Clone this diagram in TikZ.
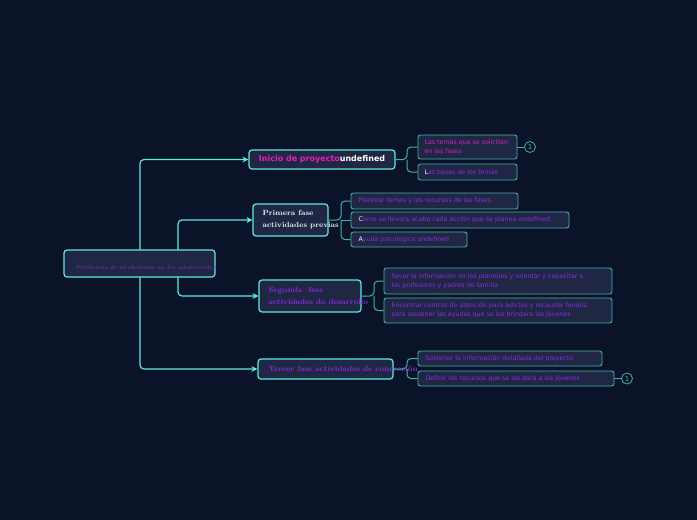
\documentclass[tikz,border=0pt]{standalone}
\usepackage{fontspec}
\setsansfont{DejaVu Sans}
\usetikzlibrary{arrows.meta}
\definecolor{bg}{HTML}{0B1329}
\definecolor{nf}{HTML}{1F2744}
\definecolor{cy}{HTML}{5FEADB}
\definecolor{tl}{HTML}{46AFA8}
\definecolor{pu}{HTML}{8A2BE2}
\definecolor{mg}{HTML}{E61EBE}
\tikzset{
 x=1pt,y=-1pt,
 box/.style={draw=cy,line width=1.2pt,fill=nf,rounded corners=3pt,inner sep=0pt},
 sub/.style={draw=tl,line width=0.9pt,fill=nf,rounded corners=2.5pt,inner sep=0pt},
 st/.style={font=\sffamily\fontsize{6.3}{9}\selectfont,text=pu,align=left},
 ser/.style={font=\rmfamily\bfseries\fontsize{7.5}{12}\selectfont,align=left},
 con/.style={draw=cy,line width=1.2pt,rounded corners=4pt},
 sc/.style={draw=tl,line width=1pt,rounded corners=4pt},
 arr/.style={con,-{Stealth[length=6pt,width=6pt]}},
 num/.style={circle,draw=tl,line width=0.8pt,inner sep=0pt,minimum size=11pt,text=tl,font=\sffamily\fontsize{7}{7}\selectfont}
}
\begin{document}
\begin{tikzpicture}
\fill[bg] (0,0) rectangle (697,520);
\useasboundingbox (0,0) rectangle (697,520);
% root
\node[box,minimum width=151pt,minimum height=27pt] (root) at (139.5,263.5) {};
\node[font=\rmfamily\itshape\fontsize{6}{7}\selectfont,text=pu,anchor=west] (roott) at (72,267) {Problemas de alcoholismo en los adolescentes};
% main
\node[box,minimum width=146pt,minimum height=19pt] (ini) at (322,159.5) {};
\node[font=\sffamily\bfseries\fontsize{8}{9}\selectfont] (init) at (322,159.5) {\textcolor{mg}{Inicio de proyecto}\textcolor{white}{undefined}};
\node[box,minimum width=75pt,minimum height=32pt] (pri) at (290.5,220) {};
\node[ser,text=white!85!cy,anchor=west] (prit) at (259,220) {Primera fase\\actividades previas};
\node[box,minimum width=102pt,minimum height=32pt] (seg) at (310,296) {};
\node[ser,text=pu,anchor=west] (segt) at (265,296) {Segunda\ \ fase\\actividades de desarrollo};
\node[box,minimum width=135pt,minimum height=20pt] (ter) at (325.5,369) {};
\node[ser,text=pu,anchor=west] (tert) at (265,369) {Tercer fase actividades de concreción};
% subs
\node[sub,minimum width=99pt,minimum height=24pt] (a1) at (467.5,147) {};
\node[st,anchor=west,text=mg!80!pu] at (421,147) {Las temas que se solicitan\\en las fases};
\node[num] (n1) at (530,147) {1};
\node[sub,minimum width=99pt,minimum height=16pt] (a2) at (467.5,172) {};
\node[st,anchor=west] at (421,172) {\textcolor{white}{L}as bases de los temas};
\node[sub,minimum width=167pt,minimum height=16pt] (b1) at (434.5,201) {};
\node[st,anchor=west] at (355,201) {Plantear temas y los recursos de las fases};
\node[sub,minimum width=218pt,minimum height=16pt] (b2) at (460,220) {};
\node[st,anchor=west] at (355,220) {\textcolor{white}{C}omo se llevara acabo cada acción que se planea undefined};
\node[sub,minimum width=116pt,minimum height=15pt] (b3) at (409,239.5) {};
\node[st,anchor=west] at (355,239.5) {\textcolor{white}{A}yuda psicologíca undefined};
\node[sub,minimum width=228pt,minimum height=26pt] (c1) at (498,281) {};
\node[st,anchor=west] at (388,281) {llevar la información en los planteles y orientar y capacitar a\\los profesores y padres de familia};
\node[sub,minimum width=228pt,minimum height=25pt] (c2) at (498,310.5) {};
\node[st,anchor=west] at (388,310.5) {Encontrar centros de atención para adictos y recaudar fondos\\para sostener las ayudas que se les brindara los jóvenes};
\node[sub,minimum width=184pt,minimum height=15pt] (d1) at (510,358.5) {};
\node[st,anchor=west] at (422,358.5) {Sostener la información detallada del proyecto};
\node[sub,minimum width=196pt,minimum height=15pt] (d2) at (516,378.5) {};
\node[st,anchor=west] at (422,378.5) {Definir los recursos que se les dará a los jóvenes};
\node[num] (n2) at (627,378.5) {1};
% connectors
\draw[arr] (140,250) |- (ini.west);
\draw[arr] (140,277) |- (ter.west);
\draw[arr] (178,250) |- (pri.west);
\draw[arr] (178,277) |- (seg.west);
\draw[sc] (ini.east) -- (407,159.5) |- (a1.west);
\draw[sc] (407,159.5) |- (a2.west);
\draw[sc] (pri.east) -- (341,220) |- (b1.west);
\draw[sc] (341,220) -- (b2.west);
\draw[sc] (341,220) |- (b3.west);
\draw[sc] (seg.east) -- (374,296) |- (c1.west);
\draw[sc] (374,296) |- (c2.west);
\draw[sc] (ter.east) -- (407,369) |- (d1.west);
\draw[sc] (407,369) |- (d2.west);
\draw[sc] (a1.east) -- (n1.west);
\draw[sc] (d2.east) -- (n2.west);
\end{tikzpicture}
\end{document}
